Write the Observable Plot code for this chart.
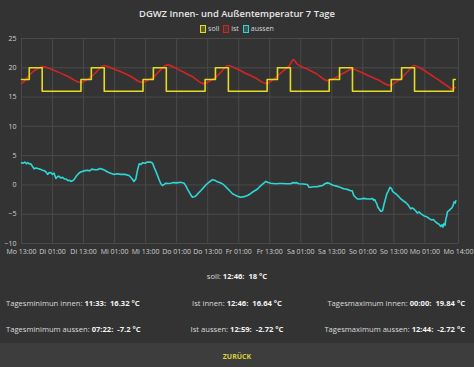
<!DOCTYPE html>
<html>
<head>
<meta charset="utf-8">
<script src="https://cdn.jsdelivr.net/npm/d3@7"></script>
<script src="https://cdn.jsdelivr.net/npm/@observablehq/plot@0.6"></script>
<style>
  html, body { margin: 0; padding: 0; background: #333333; }
  body { width: 474px; height: 367px; position: relative; overflow: hidden; font-family: "Open Sans", "Noto Sans", sans-serif; color: #e8e8e8; }
  #title { position: absolute; left: 0; width: 474px; top: 7px; text-align: center; font-size: 9.4px; font-weight: 600; color: #e6e6e6; }
  #legend { position: absolute; left: 0; width: 474px; top: 24px; text-align: center; font-size: 7px; color: #d8d8d8; }
  #legend span.item { display: inline-flex; align-items: center; margin: 0 2px; }
  #legend span.box { display: inline-block; width: 4px; height: 6px; border: 1.5px solid; margin-right: 2px; }
  #chart { position: absolute; left: 0; top: 34px; }
  .info { position: absolute; font-size: 7.6px; color: #dcdcdc; white-space: pre; }
  .info b { font-weight: 700; color: #f2f2f2; }
  #button { position: absolute; left: 0; top: 343px; width: 474px; height: 24px; background: #3d3d3d; text-align: center; line-height: 27px; font-size: 7px; font-weight: 700; color: #d4cf3a; }
</style>
</head>
<body>
<div id="title"></div>
<div id="legend"></div>
<div id="chart"></div>
<div id="info"></div>
<div id="button">ZURÜCK</div>
<script>
// ---------- data ----------
const titleText = "DGWZ Innen- und Außentemperatur 7 Tage";
const seriesNames = ["soll", "ist", "aussen"];
const seriesColors = ["#e4dc22", "#d42424", "#2ed6d6"];

// start: Mo 13:00 ; hours offset from start
const startUTC = Date.UTC(2024, 0, 8, 13, 0);
const endHours = 169; // Mo 14:00

// soll (step)
const sollHours = [0, 3, 8, 23, 27, 32, 47, 51, 56, 71, 75, 80, 95, 99, 104, 119, 123, 128, 143, 147, 152, 167, 167.77];
const sollValues = [18, 20, 16, 18, 20, 16, 18, 20, 16, 18, 20, 16, 18, 20, 16, 18, 20, 16, 18, 20, 16, 18, 18];

// ist (innen)
const istHours = [0, 1.5, 3.2, 5, 7, 8.5, 10, 14, 18, 22.9, 25, 27, 29, 31.9, 34, 38, 42, 46.8, 49, 51, 53, 56.5, 58.5, 62, 66, 70.6, 73, 75, 77, 79.9, 82, 86, 90, 94.7, 97, 99, 101, 103.5, 105.2, 106.5, 110, 114, 118.3, 121, 123, 125, 128, 130, 134, 138, 142.5, 145, 147, 149, 151.8, 154, 158, 162, 165, 166.55, 167.77];
const istValues = [17.3, 17.9, 18.8, 19.5, 20.0, 20.2, 20.0, 19.3, 18.5, 17.5, 17.9, 18.5, 19.3, 20.4, 20.1, 19.4, 18.6, 17.5, 17.9, 18.4, 19.3, 20.5, 20.2, 19.4, 18.5, 17.3, 17.8, 18.3, 19.2, 20.4, 20.1, 19.2, 18.4, 17.3, 17.9, 18.6, 19.4, 20.3, 21.4, 20.7, 19.9, 19.0, 17.8, 18.2, 18.7, 19.2, 19.8, 19.5, 18.7, 17.9, 17.0, 17.6, 18.3, 19.2, 20.4, 20.0, 18.9, 17.7, 16.8, 16.32, 16.64];

// aussen
const aussenHours = [0, 0.6, 1.3, 1.9, 2.4, 3.0, 3.6, 4.2, 4.9, 5.6, 6.3, 7.2, 8.1, 9.0, 9.5, 10.1, 10.7, 11.3, 12.0, 12.6, 13.3, 13.9, 14.4, 15.2, 15.9, 16.7, 17.3, 17.8, 18.5, 19.1, 19.7, 20.3, 21.4, 22.2, 22.9, 24.2, 25.5, 26.3, 27.2, 28.3, 29.4, 30.2, 31.1, 32.2, 33.3, 34.5, 35.8, 37.1, 38.4, 40.0, 41.6, 42.7, 43.5, 44.2, 44.8, 45.5, 46.2, 46.9, 47.8, 48.7, 50.0, 50.7, 51.3, 52.0, 52.7, 53.3, 53.9, 54.5, 55.2, 55.8, 56.7, 57.7, 58.9, 60.1, 61.5, 62.9, 63.6, 64.3, 65.2, 66.1, 66.8, 67.4, 68.4, 69.3, 70.3, 71.3, 72.6, 73.9, 74.7, 75.5, 76.6, 77.7, 78.5, 79.4, 80.5, 81.6, 82.5, 83.3, 84.0, 84.8, 86.1, 87.4, 88.2, 89.1, 90.2, 91.3, 92.1, 92.9, 93.7, 94.5, 95.4, 96.4, 97.3, 98.3, 99.6, 101.0, 102.5, 104.1, 104.9, 105.7, 106.4, 107.2, 108.9, 110.6, 111.2, 111.9, 113.0, 114.2, 115.3, 116.4, 117.3, 118.3, 119.0, 119.6, 120.3, 120.9, 121.8, 122.7, 123.7, 124.8, 125.5, 126.2, 126.8, 127.3, 127.9, 128.5, 129.2, 129.9, 131.1, 132.4, 133.7, 135.1, 135.7, 136.2, 136.6, 137.0, 137.4, 137.8, 138.3, 138.9, 139.3, 139.7, 140.2, 140.7, 141.3, 141.8, 142.2, 142.5, 142.8, 143.2, 143.5, 144.1, 144.7, 145.7, 146.7, 147.6, 148.6, 149.5, 150.5, 151.1, 151.7, 152.4, 153.1, 153.7, 154.4, 155.1, 155.7, 156.4, 157.0, 157.8, 158.7, 159.3, 159.9, 160.4, 160.9, 161.5, 162.1, 162.6, 163.0, 163.4, 163.8, 164.1, 164.4, 164.7, 165.3, 166.0, 166.5, 167.0, 167.3, 167.7, 167.98];
const aussenValues = [3.8, 3.7, 3.9, 3.6, 3.8, 3.6, 3.6, 3.2, 2.75, 2.9, 2.8, 2.7, 2.5, 2.4, 2.2, 1.8, 2.1, 2.1, 1.8, 2.0, 1.1, 1.4, 1.5, 1.2, 1.3, 1.0, 1.0, 0.75, 0.8, 0.6, 0.7, 0.9, 1.6, 2.0, 2.2, 2.4, 2.5, 2.4, 2.7, 2.6, 2.6, 2.8, 2.7, 2.5, 2.2, 2.0, 1.8, 1.9, 1.8, 1.8, 1.6, 1.1, 0.6, 1.0, 2.4, 3.6, 3.5, 3.8, 3.7, 3.9, 3.9, 3.7, 3.0, 2.3, 1.5, 0.8, 0.2, -0.1, 0.1, 0.3, 0.25, 0.3, 0.4, 0.35, 0.45, 0.3, -0.2, -0.8, -1.5, -2.1, -2.0, -1.9, -1.4, -1.0, -0.5, 0.0, 0.5, 0.9, 0.8, 0.6, 0.4, 0.2, -0.1, -0.5, -1.0, -1.5, -1.7, -1.9, -2.0, -2.1, -2.0, -1.8, -1.6, -1.3, -1.0, -0.7, -0.3, 0.0, 0.3, 0.6, 0.4, 0.3, 0.25, 0.2, 0.25, 0.25, 0.2, 0.2, 0.4, 0.35, 0.4, 0.2, 0.15, 0.07, -0.4, -0.4, -0.3, -0.3, -0.2, -0.1, 0.2, 0.35, 0.3, 0.1, 0.0, -0.1, -0.2, -0.3, -0.5, -0.7, -0.7, -0.8, -0.9, -1.0, -1.0, -1.8, -2.1, -2.4, -2.4, -2.3, -2.4, -2.4, -2.3, -2.6, -2.5, -2.9, -3.2, -3.8, -4.1, -4.5, -4.5, -4.3, -3.3, -2.5, -1.5, -1.1, -0.7, -0.4, -0.5, -0.7, -1.1, -1.3, -1.5, -1.9, -2.4, -2.7, -3.0, -3.4, -4.1, -3.9, -4.1, -4.4, -4.8, -4.6, -4.9, -5.1, -5.3, -5.4, -5.5, -5.8, -6.0, -5.9, -6.2, -6.4, -6.6, -6.7, -7.1, -6.8, -7.2, -6.6, -6.9, -5.8, -5.4, -4.6, -4.4, -4.1, -3.9, -3.4, -2.9, -3.1, -2.72];

// axis ticks
const xTickHours = [0, 12, 24, 36, 48, 60, 72, 84, 96, 108, 120, 132, 144, 156, 169];
const xTickLabels = ["Mo 13:00", "Di 01:00", "Di 13:00", "Mi 01:00", "Mi 13:00", "Do 01:00", "Do 13:00", "Fr 01:00", "Fr 13:00", "Sa 01:00", "Sa 13:00", "So 01:00", "So 13:00", "Mo 01:00", "Mo 14:00"];
const yTicks = [-10, -5, 0, 5, 10, 15, 20, 25];

// info texts
const sollInfo = ["soll: ", "12:46:  18 °C"];
const row2 = [["Tagesminimun innen: ", "11:33:  16.32 °C"], ["Ist innen: ", "12:46:  16.64 °C"], ["Tagesmaximum innen: ", "00:00:  19.84 °C"]];
const row3 = [["Tagesminimum aussen: ", "07:22:  -7.2 °C"], ["Ist aussen: ", "12:59:  -2.72 °C"], ["Tagesmaximum aussen: ", "12:44:  -2.72 °C"]];

// ---------- build ----------
const toDate = h => new Date(startUTC + h * 3600 * 1000);
const soll = sollHours.map((h, i) => ({t: toDate(h), v: sollValues[i]}));
const ist = istHours.map((h, i) => ({t: toDate(h), v: istValues[i]}));
const aussen = aussenHours.map((h, i) => ({t: toDate(h), v: aussenValues[i]}));
const xTicks = xTickHours.map(toDate);
const labelOf = new Map(xTicks.map((d, i) => [+d, xTickLabels[i]]));

document.getElementById("title").textContent = titleText;
const legend = document.getElementById("legend");
seriesNames.forEach((n, i) => {
  const it = document.createElement("span");
  it.className = "item";
  const b = document.createElement("span");
  b.className = "box";
  b.style.borderColor = seriesColors[i];
  b.style.background = seriesColors[i] + "40";
  it.appendChild(b);
  it.appendChild(document.createTextNode(n));
  legend.appendChild(it);
});

const gridColor = "#4a4a4a";
const chart = Plot.plot({
  width: 474,
  height: 230,
  marginLeft: 21,
  marginRight: 16,
  marginTop: 4,
  marginBottom: 21,
  style: {background: "transparent", color: "#d0d0d0", fontSize: "7px", fontFamily: "'Open Sans', 'Noto Sans', sans-serif"},
  x: {type: "utc", domain: [toDate(0), toDate(endHours)], ticks: xTicks, tickFormat: d => labelOf.get(+d) ?? "", tickSize: 0, tickPadding: 6, label: null},
  y: {domain: [-10, 25], ticks: yTicks, tickSize: 0, tickPadding: 5, label: null},
  marks: [
    Plot.gridX(xTicks, {stroke: gridColor, strokeOpacity: 1}),
    Plot.gridY(yTicks, {stroke: gridColor, strokeOpacity: 1}),
    Plot.axisX({ticks: xTicks, tickFormat: d => labelOf.get(+d) ?? "", tickSize: 0, tickPadding: 6, fill: "#d0d0d0"}),
    Plot.axisY({ticks: yTicks, tickSize: 0, tickPadding: 5, fill: "#d0d0d0"}),
    Plot.line(aussen, {x: "t", y: "v", stroke: seriesColors[2], strokeWidth: 1.6, curve: "linear"}),
    Plot.line(ist, {x: "t", y: "v", stroke: seriesColors[1], strokeWidth: 1.6, curve: "monotone-x"}),
    Plot.line(soll, {x: "t", y: "v", stroke: seriesColors[0], strokeWidth: 1.6, curve: "step-after"})
  ]
});
document.getElementById("chart").appendChild(chart);

const info = document.getElementById("info");
function addInfo(parts, top, align) {
  const d = document.createElement("div");
  d.className = "info";
  d.style.top = top + "px";
  if (align === "left") d.style.left = "6px";
  else if (align === "right") d.style.right = "9px";
  else { d.style.left = "0"; d.style.width = "474px"; d.style.textAlign = "center"; }
  d.appendChild(document.createTextNode(parts[0]));
  const b = document.createElement("b");
  b.textContent = parts[1];
  d.appendChild(b);
  info.appendChild(d);
}
addInfo(sollInfo, 271, "center");
addInfo(row2[0], 298, "left");
addInfo(row2[1], 298, "center");
addInfo(row2[2], 298, "right");
addInfo(row3[0], 324, "left");
addInfo(row3[1], 324, "center");
addInfo(row3[2], 324, "right");
</script>
</body>
</html>
